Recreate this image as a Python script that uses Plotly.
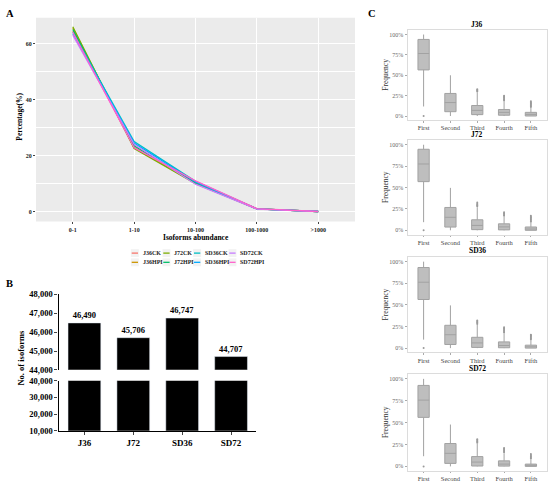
import plotly.graph_objects as go

W, H = 550, 488
SERIF = "Liberation Serif"


def fx(px):
    return px / W


def fy(py):
    return 1 - py / H


# ---- panel A : isoform abundance distribution
abund_cats = ["0-1", "1-10", "10-100", "100-1000", ">1000"]
series_names = ["J36CK", "J36HPI", "J72CK", "J72HPI", "SD36CK", "SD36HPI", "SD72CK", "SD72HPI"]
series_colors = ["#F8766D", "#CD9600", "#7CAE00", "#00BE67", "#00BFC4", "#00A9FF", "#C77CFF", "#FF61CC"]
pct_J36CK = [64.5, 23.0, 10.5, 1.0, 0.05]
pct_J36HPI = [65.5, 22.8, 10.2, 1.0, 0.05]
pct_J72CK = [66.0, 22.5, 10.0, 1.0, 0.05]
pct_J72HPI = [65.0, 23.5, 10.3, 1.0, 0.05]
pct_SD36CK = [64.0, 25.0, 10.8, 1.0, 0.05]
pct_SD36HPI = [63.5, 24.5, 10.6, 1.0, 0.05]
pct_SD72CK = [63.0, 24.0, 9.8, 0.9, 0.05]
pct_SD72HPI = [64.0, 22.8, 11.0, 1.1, 0.05]
pct_all = [pct_J36CK, pct_J36HPI, pct_J72CK, pct_J72HPI,
           pct_SD36CK, pct_SD36HPI, pct_SD72CK, pct_SD72HPI]

# ---- panel B : number of isoforms
samples = ["J36", "J72", "SD36", "SD72"]
n_isoforms = [46490, 45706, 46747, 44707]

# ---- panel C : isoform frequency per rank
ranks = ["First", "Second", "Third", "Fourth", "Fifth"]
box_q1 = {"J36": [0.566, 0.053, 0.017, 0.010, 0.0],
          "J72": [0.569, 0.038, 0.008, 0.005, 0.0],
          "SD36": [0.562, 0.042, 0.008, 0.004, 0.0],
          "SD72": [0.560, 0.034, 0.004, 0.003, 0.0]}
box_med = {"J36": [0.767, 0.165, 0.069, 0.045, 0.020],
           "J72": [0.775, 0.152, 0.057, 0.040, 0.015],
           "SD36": [0.762, 0.155, 0.060, 0.030, 0.015],
           "SD72": [0.757, 0.149, 0.049, 0.026, 0.011]}
box_q3 = {"J36": [0.940, 0.277, 0.129, 0.080, 0.045],
          "J72": [0.947, 0.267, 0.123, 0.076, 0.039],
          "SD36": [0.932, 0.264, 0.125, 0.072, 0.034],
          "SD72": [0.925, 0.261, 0.112, 0.063, 0.026]}
box_lo = {"J36": [0.117, 0.0, 0.0, 0.0, 0.0],
          "J72": [0.095, 0.0, 0.0, 0.0, 0.0],
          "SD36": [0.098, 0.0, 0.0, 0.0, 0.0],
          "SD72": [0.116, 0.0, 0.0, 0.0, 0.0]}
box_hi = {"J36": [1.0, 0.500, 0.29, 0.18, 0.10],
          "J72": [1.0, 0.496, 0.27, 0.16, 0.09],
          "SD36": [1.0, 0.494, 0.27, 0.17, 0.09],
          "SD72": [1.0, 0.478, 0.26, 0.15, 0.08]}
out_first = {"J36": [0.0], "J72": [0.0], "SD36": [0.0], "SD72": [0.0]}
out_third = {"J36": [0.30, 0.31, 0.32, 0.33],
             "J72": [0.28, 0.29, 0.30, 0.31, 0.325],
             "SD36": [0.28, 0.29, 0.30, 0.31, 0.32],
             "SD72": [0.27, 0.28, 0.29, 0.30, 0.31]}
out_fourth = {"J36": [0.19, 0.20, 0.21, 0.22, 0.23, 0.24, 0.25],
              "J72": [0.17, 0.18, 0.19, 0.20, 0.21],
              "SD36": [0.18, 0.19, 0.20, 0.21, 0.22, 0.23, 0.24],
              "SD72": [0.16, 0.17, 0.18, 0.19, 0.20, 0.21]}
out_fifth = {"J36": [0.11, 0.12, 0.13, 0.14, 0.15, 0.16, 0.17, 0.18],
             "J72": [0.10, 0.11, 0.12, 0.13, 0.14, 0.15, 0.16, 0.17],
             "SD36": [0.10, 0.11, 0.12, 0.13, 0.14, 0.15, 0.155],
             "SD72": [0.09, 0.10, 0.11, 0.12, 0.13, 0.14]}

fig = go.Figure()

# A: lines
for name, col, vals in zip(series_names, series_colors, pct_all):
    fig.add_trace(go.Scatter(x=abund_cats, y=vals, mode="lines", name=name,
                             line=dict(color=col, width=1.3),
                             xaxis="x", yaxis="y", showlegend=False))

# B: broken-axis bars (bottom and top halves)
fig.add_trace(go.Bar(x=samples, y=n_isoforms, marker_color="black", width=0.67,
                     xaxis="x2", yaxis="y2", showlegend=False))
fig.add_trace(go.Bar(x=samples, y=n_isoforms, marker_color="black", width=0.67,
                     texttemplate="%{y:,}", textposition="outside", cliponaxis=False,
                     textfont=dict(family=SERIF, size=8.5, color="black", weight="bold"),
                     xaxis="x3", yaxis="y3", showlegend=False))

# C: boxplots
c_panels = [("J36", 26, 117.5, 20), ("J72", 138.3, 234.4, 131.7),
            ("SD36", 257.6, 354.7, 250.7), ("SD72", 377.2, 475.5, 371.3)]
for i, (s, top, bot, ttl) in enumerate(c_panels):
    ax = str(i + 4)
    fig.add_trace(go.Box(x=ranks, q1=box_q1[s], median=box_med[s], q3=box_q3[s],
                         lowerfence=box_lo[s], upperfence=box_hi[s],
                         width=0.42, whiskerwidth=0, boxpoints=False,
                         fillcolor="#BEBEBE", line=dict(color="#A2A2A2", width=1),
                         xaxis="x" + ax, yaxis="y" + ax, showlegend=False))
    ox, oy = [], []
    for rk, d in [("First", out_first), ("Third", out_third),
                  ("Fourth", out_fourth), ("Fifth", out_fifth)]:
        ox += [rk] * len(d[s])
        oy += d[s]
    fig.add_trace(go.Scatter(x=ox, y=oy, mode="markers",
                             marker=dict(color="#9A9A9A", size=2),
                             xaxis="x" + ax, yaxis="y" + ax, showlegend=False))

bold6 = dict(family=SERIF, size=6, color="#222", weight="bold")
layout = dict(
    width=W, height=H, margin=dict(l=0, r=0, t=0, b=0),
    paper_bgcolor="white", plot_bgcolor="white",
    xaxis=dict(domain=[fx(36), fx(355)], anchor="y", type="category",
               categoryorder="array", categoryarray=abund_cats, range=[-0.6, 4.6],
               showgrid=True, gridcolor="white", gridwidth=1, zeroline=False,
               ticks="outside", ticklen=2, tickcolor="#444", tickfont=bold6),
    yaxis=dict(domain=[fy(221), fy(13)], anchor="x", range=[-3.5, 69.2],
               tick0=0, dtick=20, showgrid=True, gridcolor="white", gridwidth=1,
               minor=dict(tick0=0, dtick=10, showgrid=True, gridcolor="white", gridwidth=0.5),
               zeroline=False, ticks="outside", ticklen=2, tickcolor="#444", tickfont=bold6),
    xaxis2=dict(domain=[fx(58.5), fx(256)], anchor="y2", type="category",
                range=[-0.53, 3.51], showline=True, linecolor="black", linewidth=1.3,
                ticks="outside", ticklen=3, tickwidth=1.3, showgrid=False, zeroline=False,
                tickfont=dict(family=SERIF, size=9, color="black", weight="bold")),
    yaxis2=dict(domain=[fy(434.7), fy(383.5)], anchor="x2", range=[10000, 40000],
                tick0=10000, dtick=10000, tickformat=",", showline=True, linecolor="black",
                linewidth=1.3, ticks="outside", ticklen=3, tickwidth=1.3, showgrid=False,
                zeroline=False, tickfont=dict(family=SERIF, size=8.5, color="black", weight="bold")),
    xaxis3=dict(domain=[fx(58.5), fx(256)], anchor="y3", type="category",
                range=[-0.53, 3.51], visible=False),
    yaxis3=dict(domain=[fy(372.5), fy(295.5)], anchor="x3", range=[44000, 48000],
                tick0=44000, dtick=1000, tickformat=",", showline=True, linecolor="black",
                linewidth=1.3, ticks="outside", ticklen=3, tickwidth=1.3, showgrid=False,
                zeroline=False, tickfont=dict(family=SERIF, size=8.5, color="black", weight="bold")),
)

annotations = [
    dict(text="A", x=fx(4), y=fy(9), xanchor="left"),
    dict(text="B", x=fx(4), y=fy(284), xanchor="left"),
    dict(text="C", x=fx(366), y=fy(9), xanchor="left"),
]
for a in annotations:
    a.update(font=dict(family=SERIF, size=10.5, color="black", weight="bold"))

annotations += [
    dict(text="Percentage(%)", x=fx(20), y=fy(114), textangle=-90,
         font=dict(family=SERIF, size=7.5, color="black", weight="bold")),
    dict(text="Isoforms abundance", x=fx(195.5), y=fy(237.5),
         font=dict(family=SERIF, size=7.5, color="black", weight="bold")),
    dict(text="No. of isoforms", x=fx(21), y=fy(360), textangle=-90,
         font=dict(family=SERIF, size=8.5, color="black", weight="bold")),
]

shapes = [dict(type="rect", xref="x domain", yref="y domain", x0=0, x1=1, y0=0, y1=1,
               fillcolor="#EBEBEB", line=dict(width=0), layer="below")]

# A: legend drawn as ggplot-style keys, 4 columns x 2 rows (column-major)
leg_cols = [131.7, 163.3, 194.0, 229.3]
leg_rows = [253.3, 262.7]
for i, (name, col) in enumerate(zip(series_names, series_colors)):
    lx, ly = leg_cols[i // 2], leg_rows[i % 2]
    shapes.append(dict(type="rect", xref="paper", yref="paper",
                       x0=fx(lx - 0.8), x1=fx(lx + 7.1), y0=fy(ly + 4), y1=fy(ly - 4),
                       fillcolor="#F2F2F2", line=dict(width=0)))
    shapes.append(dict(type="line", xref="paper", yref="paper",
                       x0=fx(lx), x1=fx(lx + 6.3), y0=fy(ly), y1=fy(ly),
                       line=dict(color=col, width=1.3)))
    annotations.append(dict(text=name, x=fx(lx + 8.8), y=fy(ly), xanchor="left",
                            font=dict(family=SERIF, size=6, color="#222", weight="bold")))

# C: axes, titles, borders
for i, (s, top, bot, ttl) in enumerate(c_panels):
    n = i + 4
    layout["xaxis%d" % n] = dict(domain=[fx(407.5), fx(547)], anchor="y%d" % n,
                                 type="category", categoryorder="array", categoryarray=ranks,
                                 range=[-0.6, 4.6], showgrid=False, zeroline=False,
                                 showline=True, mirror=True, linecolor="#DCDCDC", linewidth=1,
                                 ticks="outside", ticklen=1.5, tickcolor="#AAAAAA",
                                 tickfont=dict(family=SERIF, size=6.5, color="#444"))
    layout["yaxis%d" % n] = dict(domain=[fy(bot), fy(top)], anchor="x%d" % n,
                                 range=[-0.05, 1.05], tick0=0, dtick=0.25, tickformat=".0%",
                                 showgrid=False, zeroline=False,
                                 showline=True, mirror=True, linecolor="#DCDCDC", linewidth=1,
                                 ticks="outside", ticklen=2, tickcolor="#AAAAAA",
                                 tickfont=dict(family=SERIF, size=6, color="#666"))
    annotations.append(dict(text=s, x=fx(477.3), y=fy(ttl),
                            font=dict(family=SERIF, size=7.5, color="black", weight="bold")))
    annotations.append(dict(text="Frequency", x=fx(385.5), y=fy((top + bot) / 2), textangle=-90,
                            font=dict(family=SERIF, size=7.5, color="#333")))

for a in annotations:
    a.setdefault("xref", "paper")
    a.setdefault("yref", "paper")
    a.setdefault("showarrow", False)
    a.setdefault("xanchor", "center")
    a.setdefault("yanchor", "middle")

layout["annotations"] = annotations
layout["shapes"] = shapes
fig.update_layout(**layout)

# the page body has a default 8px margin; drop it so the figure fills the window
fig.write_html("out.html", config={"displayModeBar": False},
               post_script="document.body.style.margin='0';")
